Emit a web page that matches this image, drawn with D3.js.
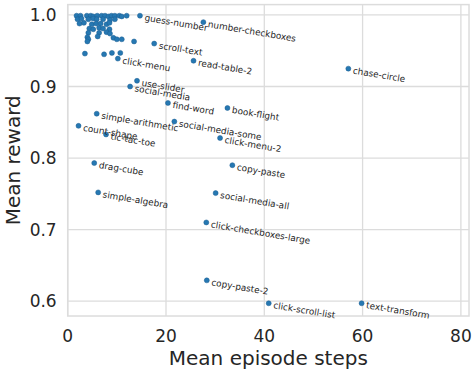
<!DOCTYPE html>
<html>
<head>
<meta charset="utf-8">
<script src="https://cdn.jsdelivr.net/npm/d3@7"></script>
<style>
  body { margin: 0; background: #fff; }
  svg { font-family: "DejaVu Sans", sans-serif; }
</style>
</head>
<body>
<div id="chart"></div>
<script>
// labelled tasks
var taskNames = ["guess-number", "number-checkboxes", "scroll-text", "click-menu", "read-table-2",
    "chase-circle", "use-slider", "social-media", "find-word", "book-flight", "simple-arithmetic",
    "social-media-some", "count-shape", "tic-tac-toe", "click-menu-2", "drag-cube", "copy-paste",
    "simple-algebra", "social-media-all", "click-checkboxes-large", "copy-paste-2",
    "click-scroll-list", "text-transform"];
var taskSteps = [14.7, 27.6, 17.6, 10.2, 25.6, 57.1, 14.1, 12.7, 20.4, 32.5, 5.9,
    21.7, 2.2, 7.8, 31.0, 5.4, 33.5, 6.2, 30.1, 28.2, 28.3, 40.9, 59.8];
var taskRewards = [0.999, 0.990, 0.960, 0.939, 0.936, 0.925, 0.908, 0.900, 0.877, 0.870, 0.862,
    0.851, 0.845, 0.833, 0.828, 0.793, 0.790, 0.752, 0.751, 0.710, 0.629, 0.597, 0.597];

// unlabelled tasks (the crowd near the top left)
var otherSteps = [1.8, 2.6, 3.9, 4.7, 5.2, 6.0, 6.9, 7.6, 8.3, 8.9, 9.6, 10.5, 11.0, 12.0,
    2.0, 2.8, 4.2, 5.2, 5.9, 7.2, 8.6, 9.6,
    2.4, 3.3, 4.9, 5.8, 6.7, 7.9, 8.5,
    4.4, 5.2, 6.4, 7.2, 8.5,
    4.2, 6.4, 7.9, 8.6,
    4.0, 4.2, 6.1, 9.3, 11.0,
    4.0, 10.0, 13.5,
    3.5, 7.4, 9.0, 10.7];
var otherRewards = [0.999, 0.999, 0.999, 0.999, 0.998, 0.999, 0.999, 0.999, 0.998, 0.999, 0.999, 0.999, 0.998, 0.999,
    0.994, 0.995, 0.994, 0.995, 0.994, 0.994, 0.993, 0.994,
    0.988, 0.989, 0.987, 0.988, 0.988, 0.987, 0.989,
    0.981, 0.980, 0.982, 0.981, 0.980,
    0.975, 0.975, 0.976, 0.974,
    0.969, 0.966, 0.970, 0.968, 0.966,
    0.963, 0.966, 0.963,
    0.946, 0.945, 0.947, 0.947];

var xTicks = [0, 20, 40, 60, 80];
var yTicks = [0.6, 0.7, 0.8, 0.9, 1.0];

const w = 474, h = 372;
const margin = { top: 4.6, right: 5, bottom: 56, left: 67.7 };
const gridColor = "#dcdcdc";
const textColor = "#262626";
const dotColor = "#2678b2";

const svg = d3.select("#chart").append("svg")
    .attr("width", w)
    .attr("height", h);

const x = d3.scaleLinear()
    .domain([0, 81.65])
    .range([margin.left, w - margin.right]);

const y = d3.scaleLinear()
    .domain([0.5792, 1.0145])
    .range([h - margin.bottom, margin.top]);

// grid
svg.append("g").selectAll("line")
    .data(xTicks)
    .enter().append("line")
    .attr("x1", d => x(d)).attr("x2", d => x(d))
    .attr("y1", margin.top).attr("y2", h - margin.bottom)
    .attr("stroke", gridColor).attr("stroke-width", 1.3);

svg.append("g").selectAll("line")
    .data(yTicks)
    .enter().append("line")
    .attr("x1", margin.left).attr("x2", w - margin.right)
    .attr("y1", d => y(d)).attr("y2", d => y(d))
    .attr("stroke", gridColor).attr("stroke-width", 1.3);

// frame
svg.append("rect")
    .attr("x", margin.left).attr("y", margin.top)
    .attr("width", w - margin.right - margin.left)
    .attr("height", h - margin.bottom - margin.top)
    .attr("fill", "none")
    .attr("stroke", gridColor).attr("stroke-width", 1.5);

// tick labels
svg.append("g").selectAll("text")
    .data(xTicks)
    .enter().append("text")
    .attr("x", d => x(d))
    .attr("y", h - margin.bottom + 25.5)
    .attr("text-anchor", "middle")
    .style("font-size", "17px")
    .attr("fill", textColor)
    .text(d => d);

svg.append("g").selectAll("text")
    .data(yTicks)
    .enter().append("text")
    .attr("x", margin.left - 11)
    .attr("y", d => y(d))
    .attr("dy", "0.36em")
    .attr("text-anchor", "end")
    .style("font-size", "17px")
    .attr("fill", textColor)
    .text(d => d3.format(".1f")(d));

// axis titles
svg.append("text")
    .attr("x", (margin.left + w - margin.right) / 2)
    .attr("y", h - 7)
    .attr("text-anchor", "middle")
    .style("font-size", "20px")
    .attr("fill", textColor)
    .text("Mean episode steps");

svg.append("text")
    .attr("transform", `translate(20,${(margin.top + h - margin.bottom) / 2}) rotate(-90)`)
    .attr("text-anchor", "middle")
    .style("font-size", "20px")
    .attr("fill", textColor)
    .text("Mean reward");

// points
const others = otherSteps.map((s, i) => [s, otherRewards[i]]);
const tasks = taskNames.map((n, i) => ({ name: n, s: taskSteps[i], r: taskRewards[i] }));

svg.append("g").selectAll("circle")
    .data(others)
    .enter().append("circle")
    .attr("cx", d => x(d[0]))
    .attr("cy", d => y(d[1]))
    .attr("r", 2.5)
    .attr("fill", dotColor)
    .attr("stroke", "#1c5f92")
    .attr("stroke-width", 0.5);

svg.append("g").selectAll("circle")
    .data(tasks)
    .enter().append("circle")
    .attr("cx", d => x(d.s))
    .attr("cy", d => y(d.r))
    .attr("r", 2.5)
    .attr("fill", dotColor)
    .attr("stroke", "#1c5f92")
    .attr("stroke-width", 0.5);

// labels, tilted
svg.append("g").selectAll("text")
    .data(tasks)
    .enter().append("text")
    .attr("transform", d => `translate(${x(d.s) + 5},${y(d.r)}) rotate(9.5)`)
    .attr("dy", "0.55em")
    .style("font-size", "8.9px")
    .attr("fill", textColor)
    .text(d => d.name);
</script>
</body>
</html>
